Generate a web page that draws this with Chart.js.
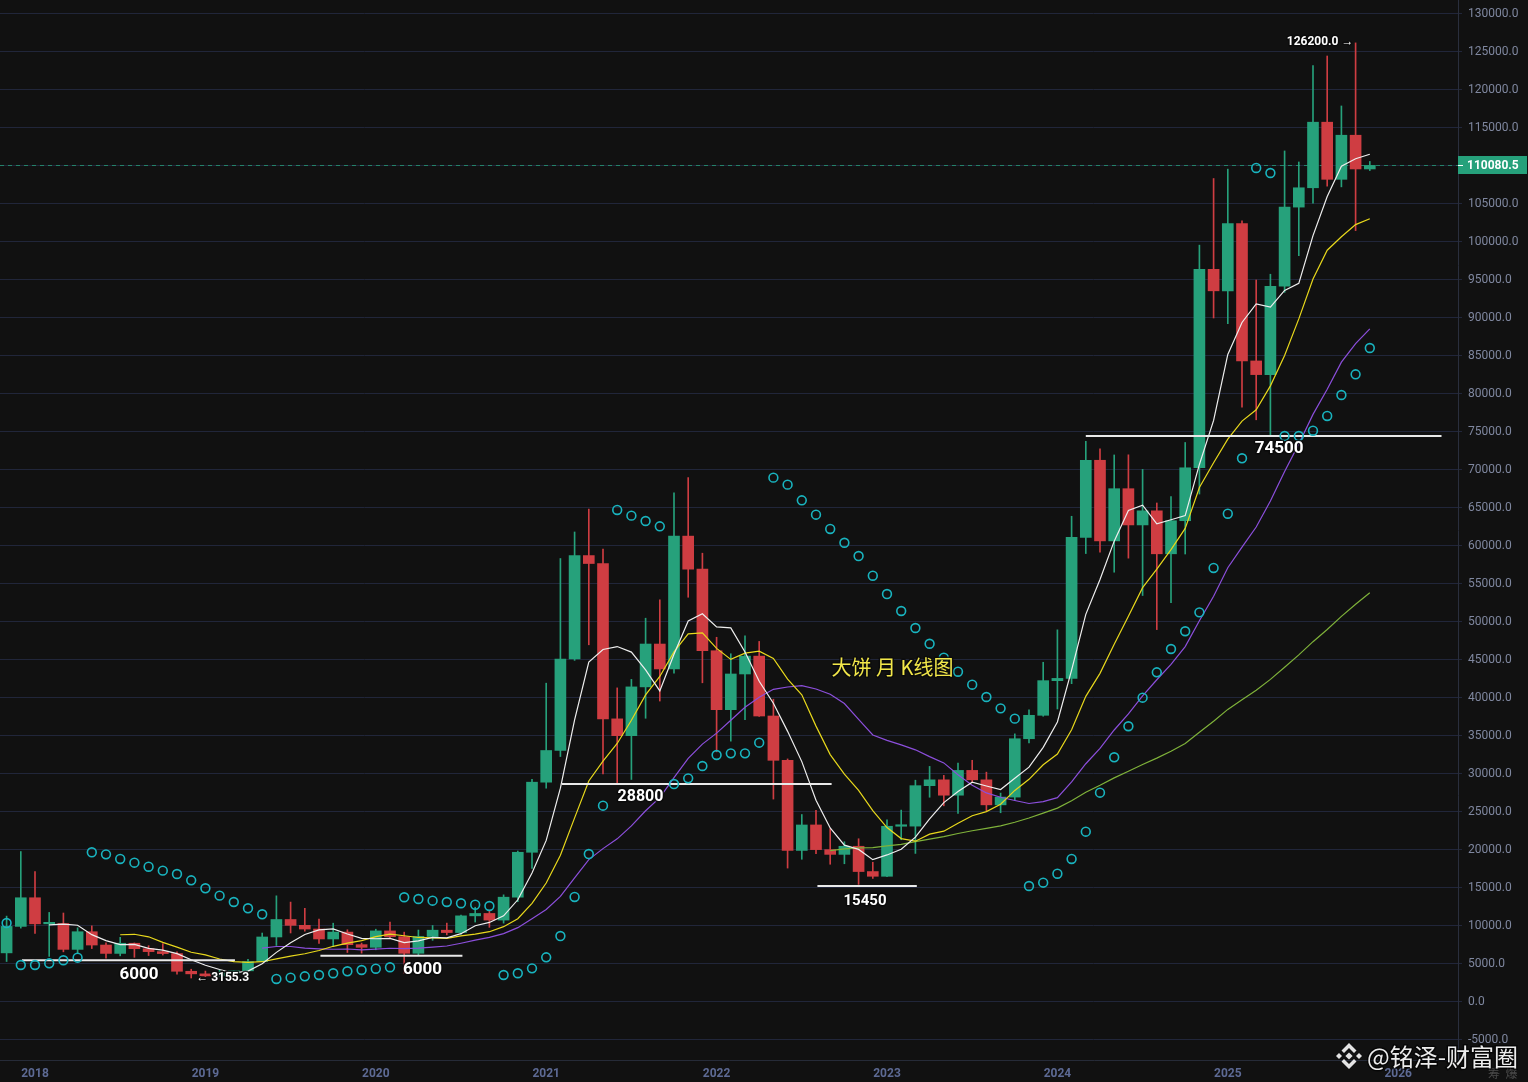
<!DOCTYPE html>
<html><head><meta charset="utf-8">
<script src="https://cdn.jsdelivr.net/npm/chart.js@4.4.1/dist/chart.umd.min.js"></script>
<style>html,body{margin:0;padding:0;background:#111111;overflow:hidden}canvas{display:block}</style>
</head><body>
<canvas id="c" width="1528" height="1082"></canvas>
<script>
// ---------- DATA ----------
const months = [
'2017-11','2017-12',
'2018-01','2018-02','2018-03','2018-04','2018-05','2018-06','2018-07','2018-08','2018-09','2018-10','2018-11','2018-12',
'2019-01','2019-02','2019-03','2019-04','2019-05','2019-06','2019-07','2019-08','2019-09','2019-10','2019-11','2019-12',
'2020-01','2020-02','2020-03','2020-04','2020-05','2020-06','2020-07','2020-08','2020-09','2020-10','2020-11','2020-12',
'2021-01','2021-02','2021-03','2021-04','2021-05','2021-06','2021-07','2021-08','2021-09','2021-10','2021-11','2021-12',
'2022-01','2022-02','2022-03','2022-04','2022-05','2022-06','2022-07','2022-08','2022-09','2022-10','2022-11','2022-12',
'2023-01','2023-02','2023-03','2023-04','2023-05','2023-06','2023-07','2023-08','2023-09','2023-10','2023-11','2023-12',
'2024-01','2024-02','2024-03','2024-04','2024-05','2024-06','2024-07','2024-08','2024-09','2024-10','2024-11','2024-12',
'2025-01','2025-02','2025-03','2025-04','2025-05','2025-06','2025-07','2025-08','2025-09','2025-10','2025-11'];

const opens = [6463,9947,
13716,10286,10326,6923,9247,7495,6392,7730,7011,6626,6370,4041,
3702,3434,3814,4102,5321,8555,10855,10085,9600,8293,9199,7546,
7195,9352,8600,6412,8620,9448,9138,11335,11650,10777,13791,19700,
28923,33092,45134,58740,57697,37254,35045,41462,47100,43820,61300,56951,
46217,38467,43160,45510,37631,31802,19942,23296,20049,19423,20490,17165,
16541,23125,23141,28465,29233,27210,30472,29232,25941,26962,34640,37723,
42283,42580,61131,71280,60672,67540,62772,64628,58973,63327,70292,96407,
93576,102429,84350,82550,94172,104591,107135,115764,108246,114049,109608];

const highs = [11300,19798,
17176,11786,11710,9759,10020,7786,8507,7770,7410,7680,6615,4313,
4070,4199,4140,5600,9074,13970,13147,12325,10905,10370,9505,7750,
9578,10500,9189,9468,10068,10380,11444,12468,12050,14100,19863,29300,
41950,58352,61845,64854,59600,41330,42448,50500,52920,67000,69000,59053,
47990,45821,48190,47444,39845,31982,24668,25211,22800,21085,21480,18387,
23960,25250,29184,31000,29820,31431,31804,30244,27489,35280,38450,44700,
48969,63913,73777,72797,71980,71997,70079,65660,66498,73620,99588,108353,
109588,102783,95000,95758,111980,110530,123218,124474,117900,126200,110600];

const lows = [5325,9722,
9035,6000,6600,6430,7032,5755,6072,5880,6111,6180,3652,3156,
3349,3400,3785,4067,5320,7442,9081,9320,7710,7300,6515,6435,
6871,8445,3782,6150,8117,8834,8893,10518,9826,10375,13195,17572,
28130,32296,44950,47000,30000,28805,29278,37332,39600,43283,53256,42000,
32917,34322,37155,37578,26700,17622,18782,19520,18125,18190,15476,16256,
16500,21351,19549,26942,25811,24800,28861,25166,24901,26521,34100,37600,
38555,41884,59005,59191,56552,58402,53485,49000,52550,58946,66835,90000,
89256,78258,76606,74508,93377,98200,105100,107350,107255,101500,109400];

const closes = [9947,13716,
10286,10326,6923,9247,7495,6392,7730,7011,6626,6371,4041,3702,
3434,3814,4103,5321,8555,10855,10085,9600,8293,9199,7546,7195,
9352,8600,6410,8620,9448,9138,11335,11650,10777,13791,19700,28923,
33092,45136,58740,57694,37253,35045,41462,47100,43824,61300,56951,46217,
38466,43160,45510,37630,31801,19942,23293,20050,19423,20491,17164,16542,
23125,23141,28465,29233,27210,30472,29232,25941,26962,34640,37724,42283,
42580,61130,71280,60672,67540,62772,64628,58973,63327,70292,96407,93576,
102429,84350,82550,94172,104591,107135,115764,108246,114049,109608,110080];

const lastPrice = 110080.5;

// moving averages (white MA5, yellow MA10, purple MA20, green MA60)
const ma5Start = '2018-02';
const ma5 = [10150,10240,10100,8860,8080,7560,7580,7050,6830,6360,
5550,4830,4270,3820,4070,5040,6530,7790,8890,9480,
9610,8950,8370,8320,8380,7820,8040,8490,8440,8990,
10040,10470,11340,13450,16970,21260,28130,37120,44720,46380,
46770,46040,43710,40940,45750,50130,51080,49350,49220,46060,
42200,39310,35610,31630,26540,22900,20640,20080,18730,19350,
20090,21690,24100,26240,27700,28920,28420,27960,29450,30900,
33510,36840,43670,51000,55590,60640,64680,65380,62920,63450,
64000,70730,76520,85210,89410,91860,91420,93620,94560,100840,
105980,109960,110960,111550];
const ma10Start = '2018-07';
const ma10 = [8850,8910,8580,7840,7220,6550,6210,5660,5320,5210,
5300,5680,6030,6350,6780,7330,7740,8080,8600,8930,
8720,8490,8430,8380,8690,8930,9250,9910,10950,12980,
15650,19300,24230,29080,31680,34020,37080,40410,42830,46060,
48450,48560,46530,45080,45900,46160,45200,42480,40430,36300,
32550,29980,27850,25180,22950,21500,21160,22090,22480,23530,
24510,25050,26030,27840,29300,31220,32630,35820,40220,43240,
47070,50760,54520,56960,59520,62320,67700,70950,74060,76430,
77930,81070,85070,89880,95130,98920,100690,102290,103060];
const ma20Start = '2019-05';
const ma20 = [7080,7300,7300,7100,7000,6940,6970,6870,6960,7070,
7010,7090,7230,7370,7730,8130,8500,9000,9780,10960,
12180,13900,16330,18730,20180,21470,23170,25160,26890,29520,
32050,33930,35380,37080,38790,40090,41140,41450,41630,41180,
40500,39270,37190,35130,34420,33830,33180,32290,31460,29910,
28530,27510,26940,26510,26120,26360,26890,28950,31350,33380,
35790,37900,40280,42400,44410,46770,50160,53380,57140,59840,
62500,65910,69800,73420,77320,80620,84190,86620,88560];
const ma60Start = '2022-09';
const ma60 = [19920,20150,20270,20320,20530,20750,21110,21440,21770,22170,
22530,22840,23180,23650,24210,24860,25510,26470,27590,28510,
29490,30360,31260,32090,33000,34020,35500,36940,38500,39760,
41030,42450,44040,45670,47410,49020,50740,52340,53850];

// parabolic SAR dots, one per month from 2017-11
const sar = [10390,4870,4870,5090,5490,5830,
19700,19430,18820,18330,17800,17280,16840,16010,14960,13990,13160,12330,11540,
3030,3200,3380,3550,3780,4040,4210,4380,4570,
13780,13550,13330,13160,12990,12800,12630,
3550,3780,4430,5880,8680,13820,19470,25830,
64740,63990,63290,62590,
28680,29430,31050,32500,32720,32720,34120,
68990,68070,66010,64120,62240,60430,58680,56090,53680,51450,49210,47140,45300,43460,41750,40130,38640,37280,
15260,15700,16880,18820,22410,27540,32200,36280,40040,43380,46450,48780,51270,57110,64250,71540,
109740,109080,
74470,74470,75170,77110,79870,82590,86050];

// horizontal support lines (level, start and end in months from 2018-01)
const levelValues = [5490, 6090, 28680, 15260, 74470];
const levelStartX = [-0.92, 20.1, 37.1, 55.1, 74.0];
const levelEndX = [14.08, 30.1, 56.1, 62.1, 99.05];

// annotation texts
const annTexts = ['6000','6000','28800','15450','74500','\u2190 3155.3','126200.0 \u2192','大饼 月 K线图'];
const annX = [7.32, 27.29, 42.64, 58.45, 87.61, 11.35, 92.85, 56.1];
const annY = [3550, 4210, 26970, 13290, 72760, 3160, 126300, 44010];

const yearLabels = ['2018','2019','2020','2021','2022','2023','2024','2025','2026'];
const yearTicks = [0,12,24,36,48,60,72,84,96];
const priceTicks = [-5000,0,5000,10000,15000,20000,25000,30000,35000,40000,45000,50000,55000,60000,65000,
70000,75000,80000,85000,90000,95000,100000,105000,110000,115000,120000,125000,130000];

// ---------- STYLE / BUILD ----------
const GREEN = '#26a17b', RED = '#cf3d42';
const mIdx = m => { const [yy, mm] = m.split('-').map(Number); return (yy - 2018) * 12 + mm - 1; };
const xi = months.map(mIdx);
const cols = closes.map((c, k) => c >= opens[k] ? GREEN : RED);
const wickData = xi.map((x, k) => ({x, y: [lows[k], highs[k]]}));
const bodyData = xi.map((x, k) => ({x, y: [opens[k], closes[k]]}));
const maPts = (arr, start) => arr.map((v, k) => ({x: mIdx(start) + k, y: v}));
const sarPts = sar.map((v, k) => ({x: xi[k], y: v}));

const PX = 14.2;                 // pixels per month
const xMin = -35 / PX, xMax = (1458 - 35) / PX;

const levelSets = levelValues.map((v, k) => ({
  type: 'line', data: [{x: levelStartX[k], y: v}, {x: levelEndX[k], y: v}],
  borderColor: '#e9e9e9', borderWidth: 2, pointRadius: 0, order: 2, tension: 0
}));

const annStyle = [
  {font: 'bold 17px Roboto', color: '#ffffff', align: 'center'},
  {font: 'bold 17px Roboto', color: '#ffffff', align: 'center'},
  {font: 'bold 16px Roboto', color: '#ffffff', align: 'center'},
  {font: 'bold 15px Roboto', color: '#ffffff', align: 'center'},
  {font: 'bold 17px Roboto', color: '#ffffff', align: 'center'},
  {font: 'bold 12px Roboto', color: '#ffffff', align: 'left'},
  {font: 'bold 12px Roboto', color: '#ffffff', align: 'right'},
  {font: '20px "Noto Sans CJK SC"', color: '#f3e84a', align: 'left'}
];

function outlined(ctx, text, px, py, st) {
  ctx.font = st.font; ctx.textAlign = st.align; ctx.textBaseline = 'middle';
  ctx.lineJoin = 'round';
  ctx.lineWidth = 3; ctx.strokeStyle = 'rgba(10,10,10,0.85)';
  ctx.strokeText(text, px, py);
  ctx.fillStyle = st.color; ctx.fillText(text, px, py);
}

const zeroPad = s => { s.paddingTop = 0; s.paddingBottom = 0; s.paddingLeft = 0; s.paddingRight = 0; };

const overlay = {
  id: 'overlay',
  beforeDatasetsDraw(chart) {
    const {ctx, scales: {y}, chartArea: ca} = chart;
    const py = Math.round(y.getPixelForValue(lastPrice)) + 0.5;
    ctx.save();
    ctx.setLineDash([4, 4]);
    ctx.strokeStyle = 'rgba(38,161,123,0.75)'; ctx.lineWidth = 1;
    ctx.beginPath(); ctx.moveTo(ca.left, py); ctx.lineTo(ca.right, py); ctx.stroke();
    ctx.restore();
  },
  afterDatasetsDraw(chart) {
    const {ctx, scales: {x, y}} = chart;
    ctx.save();
    annTexts.forEach((t, k) => outlined(ctx, t, x.getPixelForValue(annX[k]), y.getPixelForValue(annY[k]), annStyle[k]));
    ctx.restore();
  },
  afterDraw(chart) {
    const {ctx, scales: {y}, chartArea: ca} = chart;
    ctx.save();
    // price tag
    const py = Math.round(y.getPixelForValue(lastPrice));
    ctx.fillStyle = GREEN;
    ctx.fillRect(ca.right, py - 9, 1528 - ca.right - 1, 18);
    ctx.fillStyle = '#ffffff';
    ctx.fillRect(ca.right, py, 5, 1);
    ctx.font = 'bold 12px Roboto'; ctx.textAlign = 'left'; ctx.textBaseline = 'middle';
    ctx.fillText(lastPrice.toFixed(1), ca.right + 9, py + 0.5);
    // small gray text
    ctx.font = '12px "Noto Sans CJK SC"'; ctx.fillStyle = '#4a4a4a';
    ctx.fillText('筹  爆', 1488, 1073);
    // watermark logo
    const cx = 1349, cy = 1056;
    ctx.fillStyle = '#e4e4e4';
    const dia = (x0, y0, r) => { ctx.beginPath(); ctx.moveTo(x0, y0 - r); ctx.lineTo(x0 + r, y0); ctx.lineTo(x0, y0 + r); ctx.lineTo(x0 - r, y0); ctx.closePath(); ctx.fill(); };
    dia(cx, cy, 3.6); dia(cx - 10, cy, 3); dia(cx + 10, cy, 3);
    const chev = (s) => { ctx.beginPath(); ctx.moveTo(cx, cy - 13 * s); ctx.lineTo(cx + 7.5, cy - 5.5 * s); ctx.lineTo(cx + 5, cy - 3 * s); ctx.lineTo(cx, cy - 8 * s); ctx.lineTo(cx - 5, cy - 3 * s); ctx.lineTo(cx - 7.5, cy - 5.5 * s); ctx.closePath(); ctx.fill(); };
    chev(1); chev(-1);
    // watermark text
    ctx.font = '24px "Noto Sans CJK SC"'; ctx.textAlign = 'left'; ctx.textBaseline = 'middle';
    ctx.lineWidth = 3; ctx.strokeStyle = 'rgba(0,0,0,0.6)';
    ctx.strokeText('@铭泽-财富圈', 1367, 1057);
    ctx.fillStyle = '#ececec';
    ctx.fillText('@铭泽-财富圈', 1367, 1057);
    ctx.restore();
  }
};

new Chart(document.getElementById('c'), {
  type: 'bar',
  data: {
    datasets: [
      {type: 'bar', data: wickData, backgroundColor: cols, barThickness: 1, grouped: false, order: 20},
      {type: 'bar', data: bodyData, backgroundColor: cols, barThickness: 11, grouped: false, minBarLength: 1.5, order: 19},
      {type: 'line', data: maPts(ma60, ma60Start), borderColor: '#7fb23a', borderWidth: 1.2, pointRadius: 0, order: 6},
      {type: 'line', data: maPts(ma20, ma20Start), borderColor: '#8c4fdc', borderWidth: 1.2, pointRadius: 0, order: 5},
      {type: 'line', data: maPts(ma10, ma10Start), borderColor: '#e8d81c', borderWidth: 1.2, pointRadius: 0, order: 4},
      {type: 'line', data: maPts(ma5, ma5Start), borderColor: '#eeeeee', borderWidth: 1.2, pointRadius: 0, order: 3},
      ...levelSets,
      {type: 'line', data: sarPts, showLine: false, pointRadius: 4.4, pointBorderWidth: 1.6,
       pointBorderColor: '#19b4bf', pointBackgroundColor: 'rgba(0,0,0,0)', order: 1}
    ]
  },
  options: {
    responsive: false, animation: false, devicePixelRatio: 1,
    layout: {padding: 0, autoPadding: false},
    plugins: {legend: {display: false}, tooltip: {enabled: false}},
    scales: {
      x: {
        type: 'linear', position: 'bottom', min: xMin, max: xMax, offset: false,
        grid: {display: false, drawTicks: false},
        border: {display: true, color: '#262b38'},
        afterBuildTicks: s => { s.ticks = yearTicks.map(v => ({value: v})); },
        afterFit: s => { s.height = 22; zeroPad(s); },
        ticks: {autoSkip: false, maxRotation: 0, padding: 7, color: '#5d6a94',
                font: {family: 'Roboto', size: 12, weight: 'bold'},
                callback: v => yearLabels[yearTicks.indexOf(v)]}
      },
      y: {
        type: 'linear', position: 'right', min: -7632, max: 131842,
        grid: {color: '#21263a', lineWidth: 1, tickLength: 4},
        border: {display: true, color: '#2a2f3d'},
        afterBuildTicks: s => { s.ticks = priceTicks.map(v => ({value: v})); },
        afterFit: s => { s.width = 70; zeroPad(s); },
        ticks: {padding: 6, color: '#7f879f', font: {family: 'Roboto', size: 12},
                callback: v => v.toFixed(1)}
      }
    }
  },
  plugins: [overlay]
});
</script>
</body></html>
